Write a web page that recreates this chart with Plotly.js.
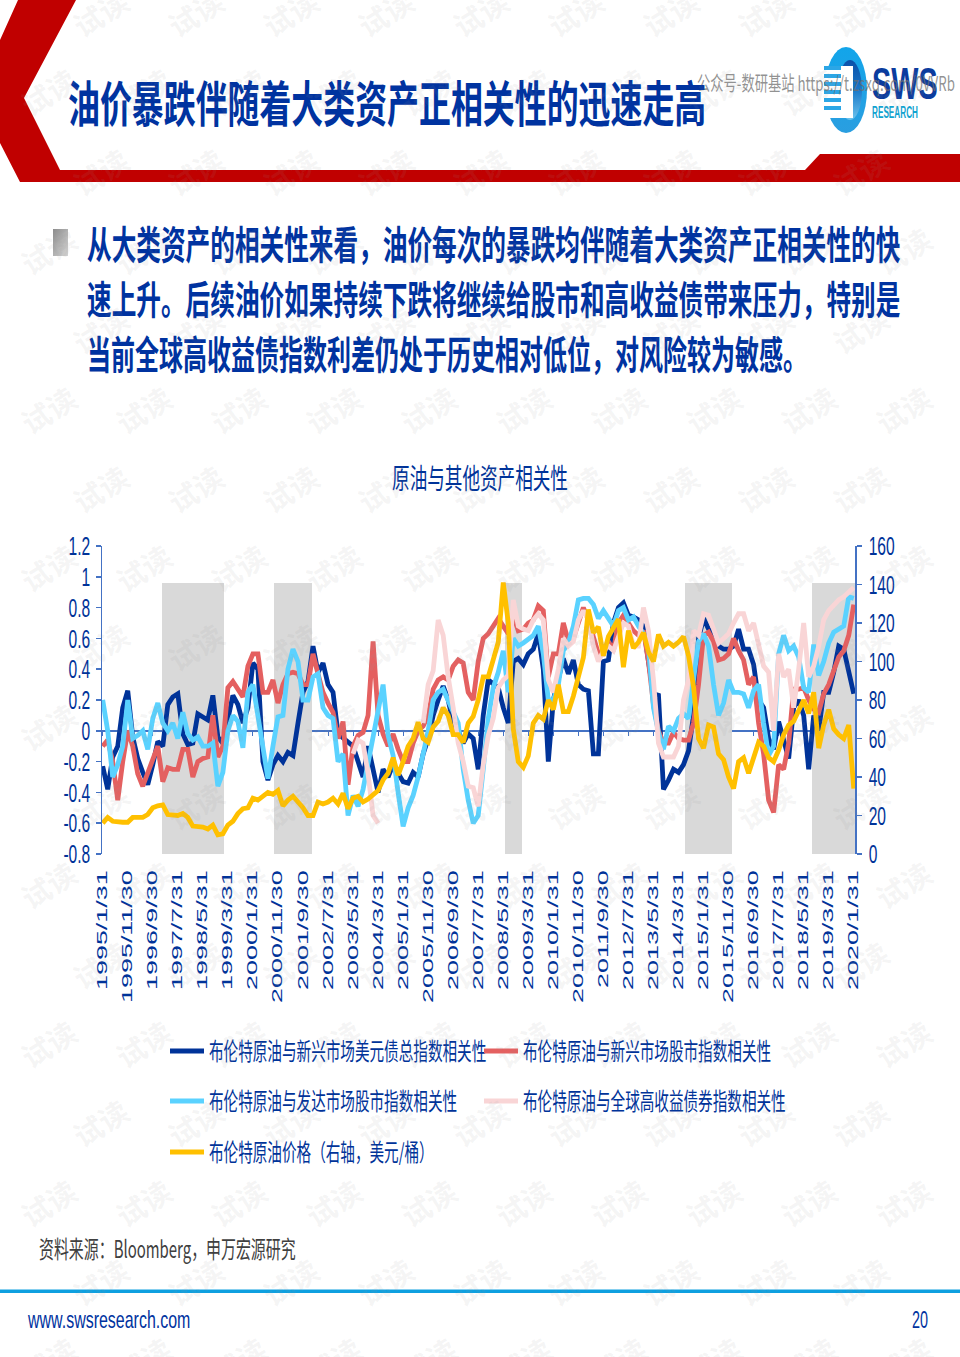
<!DOCTYPE html>
<html><head><meta charset="utf-8">
<script src="https://cdn.plot.ly/plotly-3.0.1.min.js"></script>
<style>
html,body{margin:0;padding:0;background:#fff;width:960px;height:1357px;overflow:hidden}
.t{position:absolute;white-space:nowrap;font-family:"Noto Sans CJK SC",sans-serif;transform-origin:left center}
#chart{position:absolute;left:0;top:0;width:960px;height:1357px}
#wm{position:absolute;left:0;top:0;width:960px;height:1357px;pointer-events:none;overflow:hidden}
#wm span{position:absolute;font:bold 29px "Noto Sans CJK SC",sans-serif;color:rgba(150,150,150,.10);transform:translate(-50%,-50%) rotate(-32deg);white-space:nowrap}
</style></head><body>
<svg width="960" height="1357" style="position:absolute;left:0;top:0">
  <defs>
    <linearGradient id="ring" x1="0" y1="0" x2="0" y2="1"><stop offset="0" stop-color="#12a5ea"/><stop offset="1" stop-color="#2a9ee0"/></linearGradient>
    <linearGradient id="ringIn" x1="0" y1="0" x2="0" y2="1"><stop offset="0" stop-color="#0b4fa8"/><stop offset=".5" stop-color="#1a78c8"/><stop offset="1" stop-color="#6cc4ee"/></linearGradient>
    <linearGradient id="sq" x1="0" y1="0" x2="1" y2="1"><stop offset="0" stop-color="#8c8c8c"/><stop offset="1" stop-color="#d6d6d6"/></linearGradient>
  </defs>
  <path d="M18,0 L0,40 L0,143 L20,182 L960,182 L960,154 L820,154 L805,170 L60,170 L24,98 L76,0 Z" fill="#C00000"/>
  <ellipse cx="846" cy="90" rx="21" ry="43" fill="url(#ring)"/>
  <ellipse cx="850" cy="90" rx="12" ry="30" fill="url(#ringIn)"/>
  <rect x="824" y="66" width="29" height="52" fill="#fff"/>
  <rect x="824" y="66" width="17" height="4" fill="#2ba6e6"/><rect x="824" y="74" width="17" height="4" fill="#2ba6e6"/>
  <rect x="824" y="82" width="17" height="4" fill="#2ba6e6"/><rect x="824" y="90" width="17" height="4" fill="#2ba6e6"/>
  <rect x="824" y="98" width="17" height="4" fill="#2ba6e6"/><rect x="824" y="106" width="17" height="4" fill="#2ba6e6"/>
  <rect x="53" y="229" width="15" height="27" fill="url(#sq)"/>
  <rect x="0" y="1289.5" width="960" height="3.5" fill="#0ea0e0"/>
</svg>
<div class="t" style="left:872px;top:84px;font:900 36px 'Liberation Sans',sans-serif;color:#0b3c9e;transform:translateY(-50%) scale(.8,1.25);line-height:36px">SWS</div>
<div class="t" style="left:872px;top:113px;font:bold 13px 'Liberation Sans',sans-serif;color:#11a3d0;transform:translateY(-50%) scale(.63,1.2);line-height:13px">RESEARCH</div>
<div class="t" style="left:697px;top:82px;font-size:16px;color:rgba(110,110,110,.75);line-height:20px;transform:translateY(-50%) scale(.83,1.25)">公众号-数研基站 https://t.zsxq.com/0VVRb</div>
<div class="t" style="left:68px;top:101px;font-size:30.4px;font-weight:700;color:#0033a0;line-height:34px;transform:translateY(-50%) scale(1.05,1.6)">油价暴跌伴随着大类资产正相关性的迅速走高</div>
<div class="t" style="left:87px;top:243px;font-size:24px;font-weight:700;color:#0033a0;line-height:28px;transform:translateY(-50%) scale(1.027,1.6)">从大类资产的相关性来看，油价每次的暴跌均伴随着大类资产正相关性的快</div>
<div class="t" style="left:87px;top:298px;font-size:24px;font-weight:700;color:#0033a0;line-height:28px;transform:translateY(-50%) scale(1.027,1.6)">速上升。后续油价如果持续下跌将继续给股市和高收益债带来压力，特别是</div>
<div class="t" style="left:87px;top:353px;font-size:24px;font-weight:700;color:#0033a0;line-height:28px;transform:translateY(-50%) scale(1,1.6)">当前全球高收益债指数利差仍处于历史相对低位，对风险较为敏感。</div>
<div class="t" style="left:39px;top:1248px;font-size:17px;color:#404040;line-height:20px;transform:translateY(-50%) scale(.878,1.4)">资料来源：Bloomberg，申万宏源研究</div>
<div class="t" style="left:28px;top:1320px;font-size:22px;font-family:'Liberation Sans Narrow','Liberation Sans',sans-serif;color:#0033a0;line-height:24px;transform:translateY(-50%) scale(.726,1.1)">www.swsresearch.com</div>
<div class="t" style="left:912px;top:1320px;font-size:20px;font-family:'Liberation Sans Narrow','Liberation Sans',sans-serif;color:#0033a0;line-height:24px;transform:translateY(-50%) scale(.72,1.15)">20</div>
<div id="chart"></div>
<div id="wm"></div>
<script>
// ---- data (every second month) ----
const chartTitle = "原油与其他资产相关性";
const seriesNames = ["布伦特原油与新兴市场美元债总指数相关性","布伦特原油与新兴市场股市指数相关性","布伦特原油与发达市场股市指数相关性","布伦特原油与全球高收益债券指数相关性","布伦特原油价格（右轴，美元/桶）"];
const emBondCorr = [
-.23,-.38,-.17,-.1,.15,.26,-.04,-.18,-.27,-.35,
-.22,-.07,-.1,.17,.22,.24,-.02,-.09,-.08,.11,
.09,.07,.23,-.04,-.08,.09,.23,.17,.05,.15,
.44,.4,-.2,-.32,-.22,-.16,-.2,-.14,-.16,.05,
.25,.32,.55,.38,.44,.3,.25,-.02,-.05,-.08,
-.1,-.2,-.3,-.1,-.27,-.4,-.25,-.3,-.22,-.28,
-.33,-.34,-.27,-.3,-.15,-.05,.1,.2,.29,.2,
.05,0,-.08,-.02,-.05,-.25,.1,.33,.3,.28,
.15,.05,.45,.47,.43,.5,.53,.63,.4,-.2,
.2,.35,.47,.37,.46,.3,.27,.26,-.15,-.15,
.45,.46,.7,.8,.83,.75,.74,.72,.68,.45,
.24,.23,-.38,-.32,-.25,-.27,-.22,-.13,.1,.6,
.73,.66,.63,.55,.53,.53,.55,.66,.53,.53,
.43,.2,.15,-.05,-.12,.06,-.05,-.18,.15,.2,
.1,-.25,.1,0,.25,.25,.38,.55,.53,.4,
.24];
const emEquityCorr = [
-.1,-.06,-.2,-.45,-.2,0,-.1,-.28,-.36,-.27,
-.17,-.1,-.33,-.24,-.25,-.25,-.12,-.12,-.3,-.2,
-.18,-.17,.1,-.17,-.1,.28,.32,.27,.22,.42,
.5,.5,.25,.25,.33,.18,.3,.37,.38,.37,
.3,.3,.5,.37,.25,.18,.12,-.05,.06,-.35,
-.1,-.03,-.01,.1,.58,.1,-.02,-.1,-.02,-.12,
-.2,-.2,-.08,0,.03,.1,.27,.33,.35,.33,
.42,.46,.44,.25,.2,.45,.6,.63,.68,.73,
.68,.63,.75,.65,.66,.7,.72,.81,.78,.35,
.5,.5,.7,.58,.6,.7,.8,.72,.6,.5,
.5,.58,.52,.7,.75,.7,.65,.62,.65,.45,
.17,0,-.08,-.08,-.01,-.05,-.06,-.06,.05,.3,
.62,.64,.58,.46,.47,.5,.6,.52,.46,.3,
.35,.05,-.15,-.45,-.53,-.22,-.25,-.08,.27,.27,
.28,.2,.14,.12,.24,.3,.38,.48,.52,.62,
.82];
const dmEquityCorr = [
.2,0,-.3,-.22,-.1,.2,-.05,-.03,0,-.12,
.08,.18,.05,0,.05,-.05,.12,-.02,-.06,-.04,
-.1,-.1,-.08,-.36,-.27,0,.1,.06,-.11,.25,
.3,.1,-.1,-.31,-.1,.09,.1,.4,.53,.45,
.2,.2,.35,.37,.15,.1,.08,-.2,-.15,-.55,
-.42,-.49,-.38,-.2,-.05,.15,.3,-.03,-.16,-.4,
-.62,-.5,-.42,-.3,-.14,0,.2,.25,.27,.2,
.12,.05,-.25,-.45,-.6,-.55,-.25,.08,.28,.38,
.52,.25,.6,.55,.57,.6,.62,.68,.5,.2,
.2,.3,.52,.57,.68,.85,.86,.86,.82,.73,
.78,.73,.68,.78,.8,.72,.74,.68,.63,.54,
.15,-.01,-.12,.03,0,.08,.11,.08,.35,.58,
.63,.55,.3,.1,.18,.33,.25,.25,.24,.15,
.26,.3,.05,-.16,-.1,.5,.62,.52,.55,.48,
.28,.25,.56,.36,.45,.57,.64,.66,.68,.87,
.86];
const _ = null;
const hyBondCorr = [
_,_,_,_,_,_,_,_,_,_,
_,_,_,_,_,_,_,_,_,_,
_,_,_,_,_,_,_,_,_,_,
_,_,_,_,_,_,_,_,_,_,
_,_,_,_,_,_,_,_,_,_,
-.15,-.06,-.08,-.28,-.55,-.6,_,_,_,_,
_,_,_,_,.05,.3,.39,.72,.62,.35,
.15,-.08,-.2,-.36,-.37,-.49,-.22,-.03,.08,.28,
.33,.36,.85,.68,.66,.65,.72,.76,.72,.33,
.25,.4,.6,.55,.58,.72,.78,.72,.55,.45,
.52,.55,.52,.6,.7,.68,.55,.55,.8,.65,
.33,-.08,-.17,-.17,-.17,-.1,.2,.33,.65,.62,
.76,.75,.65,.57,.6,.63,.7,.76,.76,.65,
.7,.55,.42,.38,0,.5,.35,.4,.15,.4,
.7,.35,.42,.55,.72,.78,.82,.85,.87,.9,
.93];
const brentPrice = [
16,19,17,16.5,16.5,16.5,19,19,19,20.5,
24,25,25.5,20.5,20,20,21,19,14.5,14.5,
14,13,15,10,10.5,15,17,21,23.5,24,
29,28,30,32,31,33,25,28,30,27,
24,20,20,27,26,27,29,26,31.5,23.5,
29,30,27,28.5,31,33,38.5,42,50,41,
48,56,60,68.5,60,58,66,69,76,72,
62,62,58,68,71.5,80,92,92,101,110,
141,120,65,48,45,51,68,72,70,80,
75,88,74,74,82,92,102,127,115,118,
103,113,118,122,97,116,107,110,115,105,
100,114,108,110,108,110,113,103,87,60,
55,67,66,52,49,40,34,48,50,42,
50,58,56,50,48,54,62,67,69,74,
80,73,84,55,67,75,65,62,60,67,
34];
const bandMonths = [[24,48],[69,83],[161,167],[233,251],[284,300]];
const bandHeight = 1.76;
const leftTicks = [-.8,-.6,-.4,-.2,0,.2,.4,.6,.8,1,1.2];
const leftTickText = ["-0.8","-0.6","-0.4","-0.2","0","0.2","0.4","0.6","0.8","1","1.2"];
const rightTicks = [0,20,40,60,80,100,120,140,160];

// monthly categories 1995/1/31 ... 2020/1/31
const months = [];
for (let k = 0; k <= 300; k++) {
  const y = 1995 + Math.floor(k / 12), m = k % 12 + 1;
  months.push(y + "/" + m + "/" + new Date(y, m, 0).getDate());
}
const sampled = months.filter((_d, k) => k % 2 === 0);
const labelled = months.filter((_d, k) => k % 10 === 0);
const bandX = [];
bandMonths.forEach(r => { for (let k = r[0]; k <= r[1]; k++) bandX.push(months[k]); });

const NAVY = "#003399", AXIS = "#4472C4", CJK = '"Noto Sans CJK SC",sans-serif';
const lineColors = ["#003399","#E46060","#5AD2FF","#F9D5D6","#FFC000"];
const seriesVals = [emBondCorr, emEquityCorr, dmEquityCorr, hyBondCorr, brentPrice];
const legendIds = ["legend","legend2","legend3","legend4","legend5"];

const traces = [{type:"bar", x:bandX, y:bandX.map(()=>bandHeight), base:-.8, yaxis:"y", marker:{color:"#D9D9D9",line:{width:0}}, showlegend:false, hoverinfo:"skip"}];
seriesVals.forEach((v,k)=>traces.push({
  type:"scatter", mode:"lines", name:seriesNames[k], x:sampled, y:v, yaxis:k===4?"y2":"y",
  legend:legendIds[k], connectgaps:false,
  line:{color:lineColors[k], width:4.8, shape:"linear"}
}));

const px = x => (x-102)/753, py = y => (854-y)/308;
function leg(x,y){return {x:px(x),y:py(y),xanchor:"left",yanchor:"middle",bgcolor:"rgba(0,0,0,0)",borderwidth:0,itemwidth:34,font:{family:CJK,size:14.6,color:NAVY}};}
const layout = {
  width:960,height:1357,
  margin:{l:102,r:105,t:546,b:503,pad:0},
  paper_bgcolor:"rgba(0,0,0,0)",plot_bgcolor:"rgba(0,0,0,0)",
  barmode:"overlay",bargap:0,
  showlegend:true,
  title:{text:chartTitle,x:.5,xref:"container",xanchor:"center",y:1-475.5/1357,yref:"container",yanchor:"middle",font:{family:CJK,size:17.6,color:NAVY}},
  xaxis:{type:"category",categoryorder:"array",categoryarray:months,range:[-.28,300.5],
    anchor:"free",position:.4,layer:"below traces",
    showline:true,linecolor:AXIS,linewidth:2,showgrid:false,zeroline:false,
    ticks:"outside",ticklen:4,tickwidth:1,tickcolor:AXIS,
    tickmode:"array",tickvals:labelled,ticktext:labelled,tickangle:-90,ticklabelstandoff:129,
    tickfont:{family:'"Liberation Sans",sans-serif',size:14,color:NAVY}},
  yaxis:{range:[-.8,1.2],tickmode:"array",tickvals:leftTicks,ticktext:leftTickText,
    showline:true,linecolor:AXIS,linewidth:1.5,showgrid:false,zeroline:false,
    ticks:"outside",ticklen:5,tickwidth:1.5,tickcolor:AXIS,layer:"below traces",
    tickfont:{family:'"Liberation Sans Narrow","Liberation Sans",sans-serif',size:26,color:NAVY}},
  yaxis2:{overlaying:"y",side:"right",range:[0,160],tickmode:"array",tickvals:rightTicks,
    showline:true,linecolor:AXIS,linewidth:1.5,showgrid:false,zeroline:false,
    ticks:"outside",ticklen:5,tickwidth:1.5,tickcolor:AXIS,ticklabelstandoff:2,
    tickfont:{family:'"Liberation Sans Narrow","Liberation Sans",sans-serif',size:26,color:NAVY}},
  legend:leg(165,1051),legend2:leg(479,1051),legend3:leg(165,1101),legend4:leg(479,1101),legend5:leg(165,1152)
};

function squeeze(el,sx,sy,dy){
  if(el.dataset.sq==="1"&&(el.getAttribute("transform")||"").includes("scale"))return;
  const x=+el.getAttribute("x")||0,y=(+el.getAttribute("y")||0)-dy;
  const o=el.getAttribute("transform")||"";
  el.setAttribute("transform",`${o} translate(${x},${y}) scale(${sx},${sy}) translate(${-x},${-y})`);
  el.dataset.sq="1";
}
function applyText(){
  document.querySelectorAll("#chart .xtick text").forEach(e=>squeeze(e,1.92,1,0));
  document.querySelectorAll("#chart .ytick text, #chart .y2tick text").forEach(e=>squeeze(e,.6,1,9));
  document.querySelectorAll('#chart .infolayer g[class^="legend"] text').forEach(e=>squeeze(e,1,1.6,5));
  document.querySelectorAll("#chart .gtitle").forEach(e=>squeeze(e,1,1.6,6));
}
Plotly.newPlot("chart",traces,layout,{staticPlot:true,displayModeBar:false}).then(()=>{
  applyText();
  document.getElementById("chart").on("plotly_afterplot",applyText);
  [30,120,400,1000].forEach(t=>setTimeout(applyText,t));
});

// faint "试读" page watermark
const wm=document.getElementById("wm");
for(let r=0;r<18;r++){
  const y=12+r*79.3, x0=r%2?48:100;
  for(let x=x0;x<930;x+=95){
    const s=document.createElement("span");s.textContent="试读";s.style.left=x+"px";s.style.top=y+"px";wm.appendChild(s);
  }
}
</script>
</body></html>
